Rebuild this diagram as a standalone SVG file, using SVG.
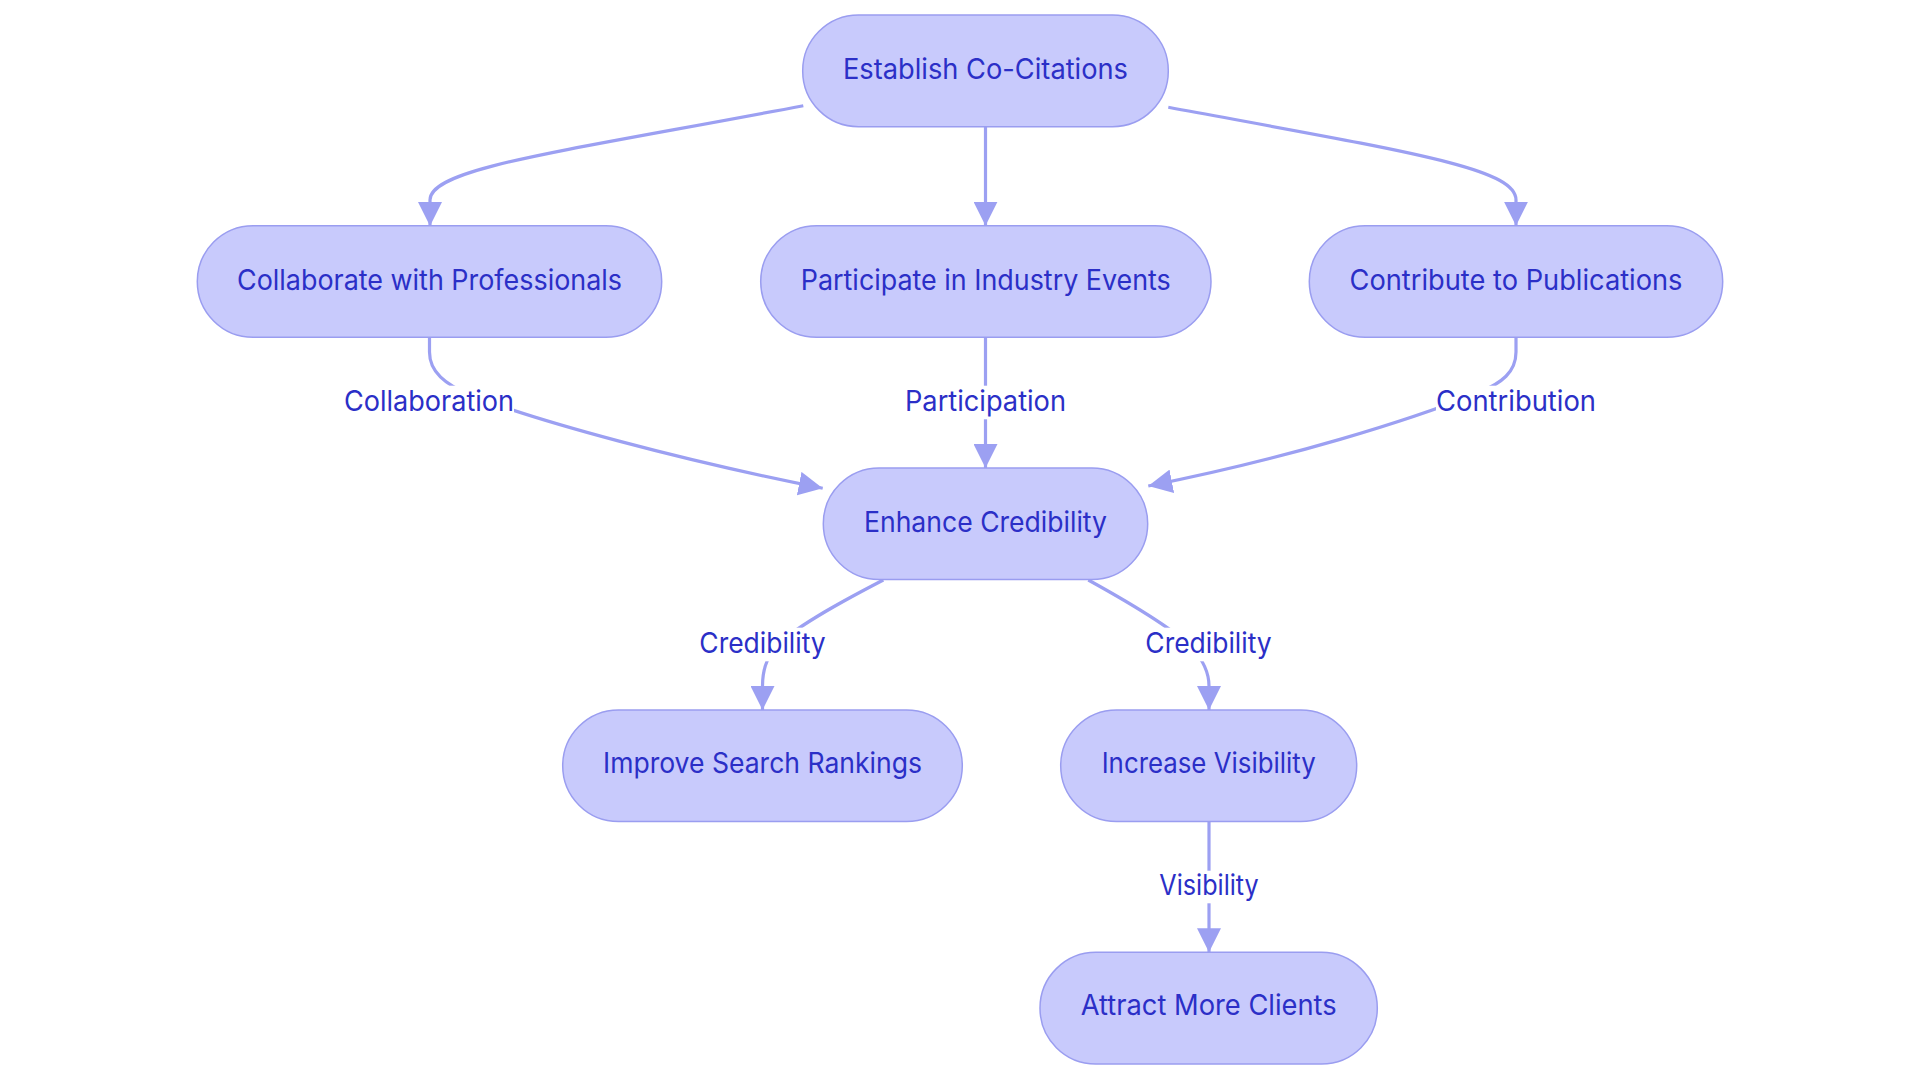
<svg xmlns="http://www.w3.org/2000/svg" width="1920" height="1083" viewBox="0 0 1920 1083">
<style>
.node rect{fill:#c8cafc;stroke:#9a9df0;stroke-width:1.5}
.node text,.lbl text{font-family:Inter,"Noto Sans","Liberation Sans",sans-serif;font-size:28px;fill:#2b2fc7;text-anchor:middle}
.edges path{fill:none;stroke:#9ca0f2;stroke-width:3.2;marker-end:url(#arr)}
.lbl rect{fill:#ffffff}
</style>
<defs>
<marker id="arr" markerUnits="userSpaceOnUse" viewBox="0 0 24 24" refX="24" refY="12" markerWidth="24" markerHeight="24" orient="auto">
<path d="M0,0 L24,12 L0,24 z" fill="#9ca0f2"/>
</marker>
</defs>
<rect width="1920" height="1083" fill="#ffffff"/>
<g class="edges">
<path d="M803.3,105.7 C560,152 430,168 430,200 L430,226"/>
<path d="M985.5,126.7 L985.5,225.7"/>
<path d="M1168.3,107.3 C1410,152 1516,168 1516,200 L1516,225.7"/>
<path d="M429.5,337.3 L429.5,352 C429.5,372 445,384 470,395 C540,422 680,460 822.7,488.3"/>
<path d="M985.5,337.3 L985.5,468"/>
<path d="M1516,337.3 L1516,352 C1516,372 1502,383 1478,393 C1410,420 1290,458 1148.3,486"/>
<path d="M883.3,580 C835,605 790,630 775,648 C765,660 762.5,672 762.5,686 L762.5,710"/>
<path d="M1088.3,580 C1130,603 1175,630 1192,648 C1203,660 1209,672 1209,686 L1209,710"/>
<path d="M1209,821.6 L1209,952.3"/>
</g>
<g class="lbl">
<g id="lbl-collaboration"><rect x="344" y="385.7" width="170" height="33.6"/><text x="429" y="410.7" textLength="170" lengthAdjust="spacingAndGlyphs">Collaboration</text></g>
<g id="lbl-participation"><rect x="905" y="385.7" width="161" height="33.6"/><text x="985.5" y="410.7" textLength="161" lengthAdjust="spacingAndGlyphs">Participation</text></g>
<g id="lbl-contribution"><rect x="1436" y="385.7" width="160" height="33.6"/><text x="1516" y="410.7" textLength="160" lengthAdjust="spacingAndGlyphs">Contribution</text></g>
<g id="lbl-cred1"><rect x="699.3" y="627.7" width="126.4" height="33.6"/><text x="762.5" y="652.7" textLength="126.4" lengthAdjust="spacingAndGlyphs">Credibility</text></g>
<g id="lbl-cred2"><rect x="1145.3" y="627.7" width="126.4" height="33.6"/><text x="1208.5" y="652.7" textLength="126.4" lengthAdjust="spacingAndGlyphs">Credibility</text></g>
<g id="lbl-visibility"><rect x="1159.3" y="870.7" width="99.4" height="32.6"/><text x="1209" y="895" textLength="99.4" lengthAdjust="spacingAndGlyphs">Visibility</text></g>
</g>
<g id="establish" class="node"><rect x="802.7" y="15" width="365.6" height="111.7" rx="55.8"/><text x="985.5" y="79" textLength="285" lengthAdjust="spacingAndGlyphs">Establish Co-Citations</text></g>
<g id="collaborate" class="node"><rect x="197.3" y="225.7" width="464.4" height="111.6" rx="55.8"/><text x="429.5" y="290" textLength="385" lengthAdjust="spacingAndGlyphs">Collaborate with Professionals</text></g>
<g id="participate" class="node"><rect x="760.7" y="225.7" width="450.3" height="111.6" rx="55.8"/><text x="985.8" y="290" textLength="370" lengthAdjust="spacingAndGlyphs">Participate in Industry Events</text></g>
<g id="contribute" class="node"><rect x="1309.3" y="225.7" width="413.4" height="111.6" rx="55.8"/><text x="1516" y="290" textLength="333" lengthAdjust="spacingAndGlyphs">Contribute to Publications</text></g>
<g id="enhance" class="node"><rect x="823.3" y="468" width="324.4" height="111.6" rx="55.8"/><text x="985.5" y="532" textLength="243" lengthAdjust="spacingAndGlyphs">Enhance Credibility</text></g>
<g id="improve" class="node"><rect x="562.7" y="710" width="399.6" height="111.6" rx="55.8"/><text x="762.5" y="773.3" textLength="319" lengthAdjust="spacingAndGlyphs">Improve Search Rankings</text></g>
<g id="increase" class="node"><rect x="1060.7" y="710" width="296" height="111.6" rx="55.8"/><text x="1208.7" y="773.3" textLength="214" lengthAdjust="spacingAndGlyphs">Increase Visibility</text></g>
<g id="attract" class="node"><rect x="1040" y="952.3" width="337.3" height="111.7" rx="55.8"/><text x="1208.7" y="1015" textLength="256" lengthAdjust="spacingAndGlyphs">Attract More Clients</text></g>
</svg>
